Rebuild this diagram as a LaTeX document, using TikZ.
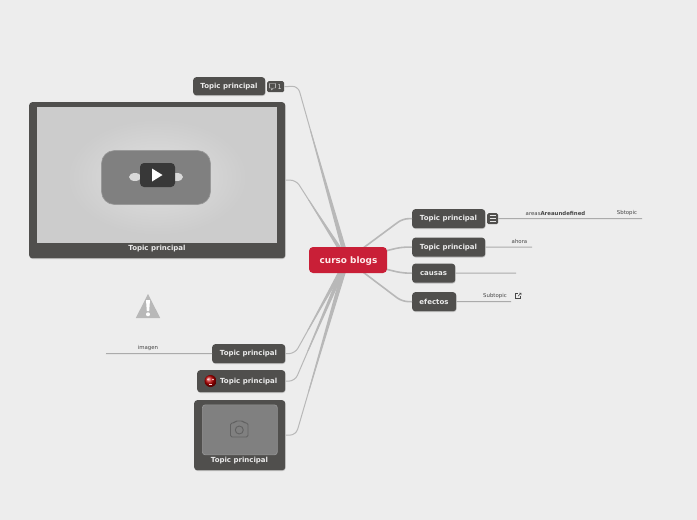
\documentclass[tikz,border=0pt]{standalone}
\usepackage{fontspec}
\setmainfont{DejaVu Sans}
\usetikzlibrary{calc,shadows}
\definecolor{bg}{HTML}{EDEDED}
\definecolor{dark}{HTML}{504F4D}
\definecolor{conn}{HTML}{B8B8B8}
\definecolor{sub}{HTML}{ABABAB}
\definecolor{redr}{HTML}{C91F37}
\tikzset{
  topicbox/.style={draw=none,fill=dark,rounded corners=3pt,inner sep=0pt,anchor=north west,
     drop shadow={shadow xshift=0.4pt,shadow yshift=-0.8pt,opacity=0.2,fill=black}},
  ttext/.style={font=\bfseries\fontsize{7}{8}\selectfont,text=white!92!black,inner sep=0pt},
  subtext/.style={font=\fontsize{5.4}{6}\selectfont,text=black!72,inner sep=0pt},
  conn/.style={draw=conn,line width=1pt,rounded corners=6pt},
  subline/.style={draw=sub,line width=1pt},
  taper/.style={fill=conn,draw=none},
}
\begin{document}
\begin{tikzpicture}[x=1pt,y=-1pt]
\useasboundingbox (0,0) rectangle (697,520);
\fill[bg] (0,0) rectangle (697,520);
\coordinate (rootc) at (347,260);
% boxes
\node[topicbox,minimum width=72pt,minimum height=18pt] (t1) at (193,77) {};
\node[ttext] (t1t) at (229,87) {Topic principal};
\node[fill=dark,rounded corners=1.5pt,minimum width=17pt,minimum height=11pt,inner sep=0pt,anchor=north west] (badge) at (267,81) {};
\draw[white!90!black,line width=0.45pt,line join=round] (269.7,83.5) -- (275.3,83.5) -- (275.3,88) -- (273.3,88) -- (271.5,90) -- (271.5,88) -- (269.7,88) -- cycle;
\node[font=\fontsize{6.5}{7}\selectfont,text=white!85!black,inner sep=0pt] (badgen) at (279.8,86.8) {1};
% video
\node[topicbox,minimum width=256pt,minimum height=156pt] (video) at (29,102) {};
\node[fill=black!20,minimum width=240pt,minimum height=136pt,inner sep=0pt,anchor=north west] (vimg) at (37,107) {};
\shade[inner color=white!88!black,outer color=black!20] (157,177) ellipse (90 and 58);
\node[fill=black!50,draw=black!40,line width=0.6pt,rounded corners=13pt,minimum width=109pt,minimum height=54pt,inner sep=0pt] (yt) at (156,177.5) {};
\fill[white!85!black] (135,177) ellipse (6 and 4) (177,177) ellipse (6 and 4);
\node[fill=black!78,rounded corners=4pt,minimum width=35pt,minimum height=24pt,inner sep=0pt] (play) at (157.5,175) {};
\fill[white] (152,168.5) -- (162.5,175) -- (152,181.5) -- cycle;
\node[ttext] (videot) at (157,248.8) {Topic principal};
% warning
\fill[white!93!black,rounded corners=1pt] (148,290.5) -- (162.5,319.5) -- (133.5,319.5) -- cycle;
\fill[black!28] (148,294) -- (160.2,318) -- (135.8,318) -- cycle;
\fill[white] (146,300) -- (150,300) -- (149.2,311) -- (146.8,311) -- cycle;
\fill[white] (148,314.3) circle (2);
% lower left
\node[topicbox,minimum width=73pt,minimum height=19pt] (t2) at (212,344) {};
\node[ttext] (t2t) at (248.5,353.8) {Topic principal};
\node[topicbox,minimum width=88pt,minimum height=22pt] (t3) at (197,370) {};
\node[ttext,anchor=east] (t3t) at (277.5,381.8) {Topic principal};
\shade[ball color=red!75!black] (210.5,381) circle (6);
\fill[white!85!red] (208,379.5) circle (0.8) (213,379.5) circle (0.8);
\fill[white!85!red] (208.8,384) rectangle (212.2,384.8);
\node[topicbox,minimum width=91pt,minimum height=70pt] (t4) at (194,400) {};
\node[fill=black!50,draw=black!42,line width=0.7pt,rounded corners=3pt,minimum width=75pt,minimum height=50pt,inner sep=0pt,anchor=north west] (t4img) at (202,404.5) {};
\draw[black!62,line width=0.9pt,rounded corners=1.5pt] (230.5,423) -- (234,423) -- (235.5,421) -- (243,421) -- (244.5,423) -- (248,423) -- (248,437) -- (230.5,437) -- cycle;
\draw[black!62,line width=0.9pt] (239.3,430) circle (4);
\node[ttext] (t4t) at (239.5,460.8) {Topic principal};
% right
\node[topicbox,minimum width=73pt,minimum height=19pt] (r1) at (412,209) {};
\node[ttext] (r1t) at (448.5,218.8) {Topic principal};
\node[fill=dark,rounded corners=1.5pt,minimum width=11pt,minimum height=11pt,inner sep=0pt,anchor=north west] (note) at (487,213) {};
\draw[white!90!black,line width=0.6pt] (489.5,215.5) -- (495.5,215.5) (489.5,218.5) -- (495.5,218.5) (489.5,221.5) -- (495.5,221.5);
\node[topicbox,minimum width=73pt,minimum height=19pt] (r2) at (412,237.5) {};
\node[ttext] (r2t) at (448.5,247.6) {Topic principal};
\node[topicbox,minimum width=43pt,minimum height=19pt] (r3) at (412,263.5) {};
\node[ttext] (r3t) at (433.5,273.8) {causas};
\node[topicbox,minimum width=44pt,minimum height=19pt] (r4) at (412,292) {};
\node[ttext] (r4t) at (434,302) {efectos};
% free line ends
\coordinate (e1) at (642,218.5);
\coordinate (e2) at (532,247);
\coordinate (e3) at (516,273);
\coordinate (e4) at (511,301.5);
\coordinate (e5) at (106,353.5);
\draw[subline] (note.east) -- (e1);
\draw[subline] (r2.east) -- (e2);
\draw[subline] (r3.east) -- (e3);
\draw[subline] (r4.east) -- (e4);
\draw[subline] (t2.west) -- (e5);
\node[subtext] (s1a) at (555.5,213.4) {areas\textbf{Areaundefined}};
\node[subtext] (s1b) at (627,213.4) {Sbtopic};
\node[subtext] (s2) at (519.5,241.4) {ahora};
\node[subtext] (s4) at (495,296.2) {Subtopic};
\node[subtext] (s5) at (148,348.4) {imagen};
\draw[black!72,line width=0.5pt] (518,293.5) -- (515.5,293.5) -- (515.5,298.7) -- (520.7,298.7) -- (520.7,296.2);
\draw[black!72,line width=0.5pt] (518,296.2) -- (521.2,293) (519,293) -- (521.2,293) -- (521.2,295.2);
% connectors
\coordinate (b1) at (298,86);
\draw[conn] (badge.east) -- (b1) -- ($(b1)!0.45!(rootc)$);
\fill[taper] ($(b1)!0.25!(rootc)+(0.5,0)$) -- ($(rootc)+(2.6,0)$) -- ($(rootc)+(-2.6,0)$) -- ($(b1)!0.25!(rootc)+(-0.5,0)$) -- cycle;
\coordinate (b2) at (296,180);
\draw[conn] (video.east) -- (b2) -- ($(b2)!0.45!(rootc)$);
\fill[taper] ($(b2)!0.25!(rootc)+(0.6,0)$) -- ($(rootc)+(2.6,0)$) -- ($(rootc)+(-2.6,0)$) -- ($(b2)!0.25!(rootc)+(-0.6,0)$) -- cycle;
\coordinate (b3) at (295,353.5);
\draw[conn] (t2.east) -- (b3) -- ($(b3)!0.45!(rootc)$);
\fill[taper] ($(b3)!0.25!(rootc)+(0.6,0)$) -- ($(rootc)+(2.6,0)$) -- ($(rootc)+(-2.6,0)$) -- ($(b3)!0.25!(rootc)+(-0.6,0)$) -- cycle;
\coordinate (b4) at (295,381);
\draw[conn] (t3.east) -- (b4) -- ($(b4)!0.45!(rootc)$);
\fill[taper] ($(b4)!0.25!(rootc)+(0.6,0)$) -- ($(rootc)+(2.6,0)$) -- ($(rootc)+(-2.6,0)$) -- ($(b4)!0.25!(rootc)+(-0.6,0)$) -- cycle;
\coordinate (b5) at (296,435);
\draw[conn] (t4.east) -- (b5) -- ($(b5)!0.45!(rootc)$);
\fill[taper] ($(b5)!0.25!(rootc)+(0.5,0)$) -- ($(rootc)+(2.6,0)$) -- ($(rootc)+(-2.6,0)$) -- ($(b5)!0.25!(rootc)+(-0.5,0)$) -- cycle;
\draw[conn,line width=1.6pt] (r1.west) -- (403,218.5) -- (rootc);
\draw[conn,line width=1.6pt] (r2.west) -- (402,247) -- (rootc);
\draw[conn,line width=1.6pt] (r3.west) -- (402,273) -- (rootc);
\draw[conn,line width=1.6pt] (r4.west) -- (402,301.5) -- (rootc);
% root
\node[fill=redr,rounded corners=4pt,minimum width=78pt,minimum height=26pt,inner sep=0pt] (root) at (348,260) {};
\node[text=white!92!red,inner sep=0pt,font=\bfseries\fontsize{8.9}{10}\selectfont] (roott) at (348.5,261) {curso blogs};
\end{tikzpicture}
\end{document}
